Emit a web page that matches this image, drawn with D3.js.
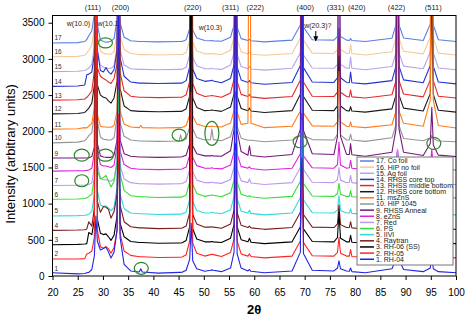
<!DOCTYPE html>
<html>
<head>
<meta charset="utf-8">
<script src="https://cdn.jsdelivr.net/npm/d3@7"></script>
<style>
  body { margin: 0; background: #fff; }
  text { font-family: "Liberation Sans", Arial, sans-serif; }
</style>
</head>
<body>
<div id="chart"></div>
<script>
// 2-theta grid shared by all patterns (degrees)
var twoTheta = [20, 25, 26.4, 26.8, 27.2, 27.8, 28.3,
  28.6, 28.9, 29.5, 30.1, 30.6, 31.1, 31.6, 32.2, 32.8,
  33.1, 33.4, 34.2, 35.5, 37.2, 37.5, 37.8, 41,
  45.1, 45.4, 45.7, 46.5, 47.2, 47.5, 47.8, 48.6, 50.2,
  51.3, 51.6, 51.9, 53.5, 55.3, 56.0, 56.3, 56.6, 57.4,
  58.75, 59.05, 59.35, 62, 67.5, 69.15, 69.45, 69.75, 71.5,
  75.8, 76.5, 76.8, 77.1, 78.3, 78.85, 79.1, 79.35, 82,
  87.3, 88.1, 88.4, 88.7, 89.6, 93.5, 94.9, 95.2, 95.5, 96.5, 100];

// stacking offset of each pattern (arbitrary units), pattern 1 first
var offsets = [30, 235, 432, 630, 830, 1060, 1250, 1450, 1630, 1840, 2030, 2240, 2430, 2620, 2825, 3030, 3220];

// intensity above the offset (peaks past the frame are clipped)
var t1 = [15,0,5,15,20,60,250, 800,450,330,350,370,300,220,300,600, 5000,500,130,40,25,70,25,10, 20,20,22,50,200,700,180,70,35, 50,55,50,30,80,300,5000,280,80, 40,60,35,15,40,300,5000,280,50, 40,80,180,70,40,35,80,30,15, 70,200,700,200,60,30,80,250,70,30,15];
var t2 = [0,0,5,70,80,110,300, 5000,400,170,150,170,140,80,160,400, 2000,350,110,50,30,30,30,20, 25,25,28,60,250,2300,220,80,40, 60,65,60,35,90,280,1500,250,70, 40,70,35,15,40,250,1200,230,45, 40,90,300,80,40,40,130,35,20, 60,180,600,170,55,25,60,300,60,25,15];
var t3 = [0,5,10,15,170,140,350, 5000,350,160,140,150,110,60,130,400, 1600,300,110,45,30,30,30,20, 25,25,28,60,250,5000,220,80,40, 40,45,40,30,90,280,1300,250,70, 40,90,35,15,40,250,1000,220,45, 40,100,450,90,40,40,130,35,20, 60,170,500,160,55,25,60,250,60,25,15];
var t4 = [0,5,10,20,120,60,300, 5000,400,250,330,320,290,170,260,500, 1500,350,120,50,35,35,35,25, 30,30,32,60,250,5000,220,90,45, 45,50,45,30,90,280,1200,250,70, 40,60,35,15,40,250,1000,220,45, 40,90,350,80,40,40,120,35,20, 60,170,500,160,55,25,60,250,60,25,15];
var t5 = [0,5,10,15,20,70,300, 4000,350,150,130,140,110,70,120,400, 1400,300,100,40,30,30,30,20, 25,25,28,55,230,1500,200,75,40, 45,50,45,30,85,270,1200,240,65, 40,80,35,15,40,250,1000,220,45, 40,80,280,75,40,40,100,35,20, 60,220,900,200,60,25,70,300,65,25,15];
var t6 = [0,5,10,20,40,70,300, 4000,400,280,300,330,250,170,250,500, 1500,350,120,50,35,35,35,25, 30,30,32,60,240,1500,210,80,40, 55,60,55,35,90,270,1200,240,70, 40,50,35,15,40,250,900,220,45, 40,80,220,70,40,40,120,35,25, 60,200,600,180,60,30,70,250,60,25,20];
var t7 = [0,5,5,10,15,40,250, 4000,300,100,80,80,70,60,90,350, 1300,280,90,40,25,25,25,20, 25,25,28,55,220,1200,190,75,40, 40,45,40,30,85,260,1200,230,65, 40,90,35,15,40,250,900,220,45, 40,80,250,75,40,45,140,40,20, 60,170,500,160,55,25,70,300,60,25,15];
var t8 = [0,5,5,10,15,40,250, 4000,300,90,70,70,60,50,80,350, 1300,280,90,40,25,25,25,20, 25,25,28,55,220,1100,190,75,40, 40,45,40,30,85,260,1100,230,65, 40,60,35,15,40,240,800,210,45, 40,90,400,85,40,45,150,40,20, 60,150,300,140,55,25,70,300,60,25,15];
var t9 = [0,0,0,0,5,20,150, 4000,200,30,15,10,10,10,40,250, 2000,250,60,25,15,15,15,10, 15,15,18,40,200,2000,170,60,30, 30,35,30,25,100,400,5000,380,90, 40,170,35,15,50,400,5000,380,60, 50,300,5000,300,50,50,200,45,25, 80,400,5000,400,80,35,200,700,180,40,20];
var t10 = [0,10,30,60,100,140,400, 4000,300,80,50,45,40,40,70,350, 1500,280,90,40,25,25,25,20, 25,110,25,55,220,2000,190,75,40, 45,190,45,30,85,260,1500,230,65, 35,35,35,15,40,100,400,100,45, 40,120,500,110,40,40,120,40,20, 70,250,2000,240,60,30,70,100,60,25,15];
var t11 = [0,5,20,15,40,80,300, 4000,200,40,30,30,25,25,50,250, 3000,250,70,30,20,50,20,15, 20,20,22,50,200,3000,180,70,35, 35,40,35,30,85,260,3000,230,65, 80,5000,80,20,40,250,3000,220,45, 40,100,800,100,40,35,100,35,20, 60,250,3000,250,80,40,400,5000,400,50,15];
var t12 = [0,5,20,50,80,150,400, 4000,400,260,230,220,180,150,220,450, 3000,350,110,45,35,35,35,30, 35,35,38,70,250,5000,220,90,45, 50,55,50,35,95,280,3000,250,75, 45,80,40,20,45,270,3000,240,50, 45,110,800,110,45,40,100,40,25, 70,260,3000,260,80,40,280,2000,270,50,25];
var t13 = [0,5,15,40,70,130,400, 5000,450,330,300,280,250,230,300,500, 3000,380,130,55,40,40,40,35, 40,40,42,75,260,3000,230,95,50, 60,65,60,40,100,290,3000,260,80, 50,80,45,25,50,280,3000,250,55, 50,110,800,110,50,45,140,45,30, 75,270,3000,270,85,45,280,2000,270,55,30];
var t14 = [0,5,20,160,170,200,450, 5000,500,220,200,260,200,170,230,500, 5000,400,140,60,45,45,45,40, 45,45,48,80,270,3000,240,110,70, 80,85,75,50,110,300,5000,270,90, 55,80,50,30,55,290,3000,260,60, 55,120,800,120,55,50,200,50,35, 80,280,3000,280,90,50,290,2000,280,60,35];
var t15 = [0,5,15,30,50,100,350, 4000,300,90,60,50,45,45,80,350, 3000,300,90,40,30,30,30,25, 30,30,32,60,230,3000,200,80,40, 40,45,40,30,90,270,3000,240,70, 40,70,35,20,45,260,3000,230,50, 45,100,800,100,45,45,200,45,25, 70,260,3000,260,75,40,270,2000,260,50,25];
var t16 = [0,5,20,50,90,160,400, 4000,300,80,50,40,35,35,70,350, 3000,300,100,45,30,30,30,25, 30,30,32,60,230,3000,200,80,40, 40,45,40,30,90,270,3000,240,70, 40,60,35,20,45,260,3000,230,50, 45,100,800,100,45,45,170,45,25, 70,260,3000,260,75,40,270,2000,260,50,25];
var t17 = [0,5,20,50,100,170,400, 4000,250,40,20,10,15,25,60,330, 3000,280,80,30,20,20,20,15, 20,20,22,45,200,3000,180,70,35, 30,35,30,25,80,250,3000,220,60, 35,50,30,15,40,250,3000,220,45, 40,90,800,90,40,35,60,35,20, 65,250,3000,250,70,35,260,2000,250,45,20];
var traces = [t1, t2, t3, t4, t5, t6, t7, t8, t9, t10, t11, t12, t13, t14, t15, t16, t17];

var traceNames = ["1. RH-04", "2. RH-05", "3. RH-06 (SS)", "4. Raytran", "5. IIVI", "6. PS", "7. Red",
  "8. eZnS", "9. RHSS Anneal", "10. HIP 1045", "11. msZnS", "12. RHSS core bottom",
  "13. RHSS middle bottom", "14. RHSS core top", "15. Ag foil", "16. HIP no foil", "17. Co foil"];
var traceColors = ["#2424e6", "#ff2424", "#000000", "#7a1c1c", "#33d8d8", "#33dd33", "#bb99ee",
  "#e020e0", "#76187a", "#959595", "#ff7a1a", "#1a1a1a", "#e8282a", "#2034d0", "#b9a2ee", "#f5c89a", "#5a7ee6"];

// peak labels over the frame and their 2-theta positions
var hklLabels = ["(111)", "(200)", "(220)", "(311)", "(222)", "(400)", "(331)", "(420)", "(422)", "(511)"];
var hklPos = [28.0, 33.5, 47.8, 55.3, 60.2, 70.1, 76.1, 80.3, 88.2, 95.5];

// wurtzite notes inside the frame
var wNotes = ["w(10.0)", "w(10.1", "w(10.3)", "w(20.3)?"];
var wPos = [25.15, 31.0, 51.3, 72.6];
var wLevel = [3455, 3455, 3400, 3427];

// green rings marking features
var ringCenters = [[30.5, 3222], [25.8, 1670], [30.5, 1670], [25.8, 1316], [45.1, 1948], [51.6, 1971], [69.1, 1855], [95.6, 1833], [37.6, 106]];
var ringSizes = [[7, 5], [7.5, 6], [8, 6], [7, 6], [7, 6], [7, 12], [7, 6], [7, 6], [7, 6]];

var xTicks = d3.range(20, 101, 5);
var yTicks = d3.range(0, 3501, 500);

var svgWidth = 474;
var svgHeight = 323;
var margin = { top: 15.5, right: 18, bottom: 47, left: 52.5 };
var width = svgWidth - margin.left - margin.right;
var height = svgHeight - margin.top - margin.bottom;

var svg = d3.select("#chart")
  .append("svg")
  .attr("width", svgWidth)
  .attr("height", svgHeight);

svg.append("defs").append("clipPath")
  .attr("id", "plotClip")
  .append("rect")
  .attr("width", width)
  .attr("height", height);

var chartGroup = svg.append("g")
  .attr("transform", `translate(${margin.left}, ${margin.top})`);

var xScale = d3.scaleLinear().domain([20, 100]).range([0, width]);
var yScale = d3.scaleLinear().domain([0, 3600]).range([height, 0]);

var line = d3.line()
  .x(d => xScale(d[0]))
  .y(d => yScale(d[1]));

// patterns: 17 drawn first, 1 last (on top)
var traceGroup = chartGroup.append("g").attr("clip-path", "url(#plotClip)");
for (var k = traces.length - 1; k >= 0; k--) {
  var pts = twoTheta.map((t, i) => [t, offsets[k] + traces[k][i]]);
  traceGroup.append("path")
    .datum(pts)
    .attr("d", line)
    .attr("fill", "none")
    .attr("stroke", traceColors[k])
    .attr("stroke-width", 1.1)
    .attr("stroke-linejoin", "round");
}

// pattern numbers at the left
chartGroup.append("g")
  .selectAll("text")
  .data(offsets)
  .enter()
  .append("text")
  .attr("x", 2)
  .attr("y", d => yScale(d) - 2.5)
  .attr("font-size", "6.5px")
  .attr("fill", "#333")
  .text((d, i) => i + 1);

// rings
chartGroup.append("g")
  .selectAll("ellipse")
  .data(ringCenters)
  .enter()
  .append("ellipse")
  .attr("cx", d => xScale(d[0]))
  .attr("cy", d => yScale(d[1]))
  .attr("rx", (d, i) => ringSizes[i][0])
  .attr("ry", (d, i) => ringSizes[i][1])
  .attr("fill", "none")
  .attr("stroke", "#2a8a2a")
  .attr("stroke-width", 1.2);

// wurtzite notes
chartGroup.append("g")
  .selectAll("text")
  .data(wNotes)
  .enter()
  .append("text")
  .attr("x", (d, i) => xScale(wPos[i]))
  .attr("y", (d, i) => yScale(wLevel[i]))
  .attr("text-anchor", "middle")
  .attr("font-size", "7px")
  .attr("fill", "#222")
  .text(d => d);

// arrow under w(20.3)?
svg.append("defs").append("marker")
  .attr("id", "arrowHead")
  .attr("viewBox", "0 0 10 10")
  .attr("refX", 9).attr("refY", 5)
  .attr("markerWidth", 5).attr("markerHeight", 5)
  .attr("orient", "auto")
  .append("path")
  .attr("d", "M0,0 L10,5 L0,10 z")
  .attr("fill", "#000");
chartGroup.append("line")
  .attr("x1", xScale(72.2)).attr("x2", xScale(72.2))
  .attr("y1", yScale(3385)).attr("y2", yScale(3250))
  .attr("stroke", "#000")
  .attr("stroke-width", 1)
  .attr("marker-end", "url(#arrowHead)");

// axes
var xAxis = d3.axisBottom(xScale).tickValues(xTicks).tickSize(4).tickPadding(9).tickFormat(d3.format("d"));
var yAxis = d3.axisLeft(yScale).tickValues(yTicks).tickSize(4).tickPadding(4).tickFormat(d3.format("d"));

chartGroup.append("g")
  .attr("transform", `translate(0, ${height})`)
  .attr("font-size", "11.5px")
  .attr("font-family", "Liberation Sans, Arial, sans-serif")
  .call(xAxis)
  .call(g => g.select(".domain").remove());

chartGroup.append("g")
  .attr("font-size", "10px")
  .attr("font-family", "Liberation Sans, Arial, sans-serif")
  .call(yAxis)
  .call(g => g.select(".domain").remove());

// frame
chartGroup.append("rect")
  .attr("width", width)
  .attr("height", height)
  .attr("fill", "none")
  .attr("stroke", "#000")
  .attr("stroke-width", 1);

// hkl labels above frame
chartGroup.append("g")
  .selectAll("text")
  .data(hklLabels)
  .enter()
  .append("text")
  .attr("x", (d, i) => xScale(hklPos[i]))
  .attr("y", -5.5)
  .attr("text-anchor", "middle")
  .attr("font-size", "7.5px")
  .attr("fill", "#222")
  .text(d => d);

// legend
var legend = svg.append("g").attr("transform", "translate(357, 157)");
legend.append("rect")
  .attr("width", 96)
  .attr("height", 108)
  .attr("fill", "#fff")
  .attr("stroke", "#777")
  .attr("stroke-width", 1);
var legendOrder = d3.range(traces.length - 1, -1, -1);
var rows = legend.selectAll("g.row")
  .data(legendOrder)
  .enter()
  .append("g")
  .attr("class", "row")
  .attr("transform", (d, i) => `translate(0, ${4 + i * 6.14})`);
rows.append("line")
  .attr("x1", 3).attr("x2", 17)
  .attr("stroke", d => traceColors[d])
  .attr("stroke-width", 1.5);
rows.append("text")
  .attr("x", 19)
  .attr("y", 2.4)
  .attr("font-size", "7px")
  .attr("fill", "#222")
  .text(d => traceNames[d]);

// axis titles
svg.append("text")
  .attr("transform", "translate(15, 154) rotate(-90)")
  .attr("text-anchor", "middle")
  .attr("font-size", "13px")
  .text("Intensity (arbitrary units)");

svg.append("text")
  .attr("x", margin.left + width / 2)
  .attr("y", 313.5)
  .attr("text-anchor", "middle")
  .attr("font-size", "13px")
  .attr("font-weight", "bold")
  .text("2θ");
</script>
</body>
</html>
